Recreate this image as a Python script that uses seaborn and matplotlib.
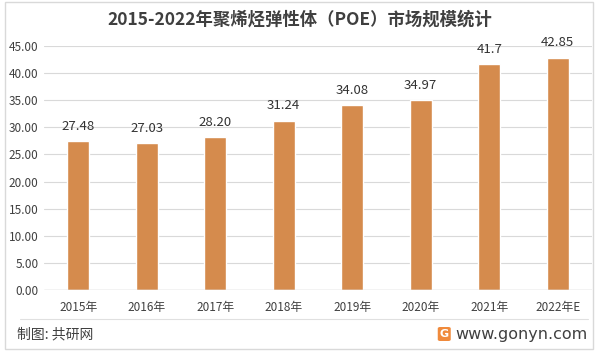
import matplotlib
matplotlib.use("Agg")
import matplotlib.pyplot as plt
import seaborn as sns
import pandas as pd
from matplotlib.patches import Rectangle, FancyBboxPatch
from matplotlib.lines import Line2D

years = ["2015年", "2016年", "2017年", "2018年", "2019年", "2020年", "2021年", "2022年E"]
values = [27.48, 27.03, 28.20, 31.24, 34.08, 34.97, 41.7, 42.85]
value_labels = ["27.48", "27.03", "28.20", "31.24", "34.08", "34.97", "41.7", "42.85"]
yticks = [0, 5, 10, 15, 20, 25, 30, 35, 40, 45]

title = "2015-2022年聚烯烃弹性体（POE）市场规模统计"
source = "制图: 共研网"
site = "www.gonyn.com"

sns.set_theme(style="white")
plt.rcParams['font.family'] = ['Noto Sans CJK SC', 'DejaVu Sans']

W, H = 600, 356
fig = plt.figure(figsize=(6, 3.56), dpi=100)
ax = fig.add_axes([44 / W, 1 - 290 / H, (592 - 44) / W, (290 - 46) / H])

df = pd.DataFrame({"year": years, "value": values})
sns.barplot(data=df, x="year", y="value", color="#D58B4D", saturation=1,
            width=0.32, ax=ax, zorder=3)

ax.set_ylim(0, 45)
ax.set_xlim(-0.5, len(years) - 0.5)
ax.set_yticks(yticks)
ax.set_yticklabels([f"{v:.2f}" for v in yticks], fontsize=8.5, color="#404040")
ax.set_xticks(range(len(years)))
ax.set_xticklabels(years, fontsize=8.5, color="#404040")
ax.tick_params(axis="both", length=0, pad=4)
ax.tick_params(axis="x", pad=8)
ax.set_xlabel("")
ax.set_ylabel("")
for s in ax.spines.values():
    s.set_visible(False)
for v in yticks:
    ax.axhline(v, color="#D9D9D9", lw=0.8, zorder=1)
ax.axhline(0, color="#D0D0D0", lw=1.0, zorder=4)

for i, (v, lab) in enumerate(zip(values, value_labels)):
    ax.annotate(lab, (i, v), xytext=(0, 6), textcoords="offset points",
                ha="center", va="bottom", fontsize=9.5, color="#333333")

# frame
fig.patches.append(Rectangle((5 / W, 1 - 349 / H), (593 - 5) / W, (349 - 2) / H,
                             transform=fig.transFigure, fill=False,
                             edgecolor="#D9D9D9", lw=1.0))
# separator line
fig.lines.append(Line2D([20 / W, 588 / W], [1 - 319 / H, 1 - 319 / H],
                        transform=fig.transFigure, color="#E0E0E0", lw=0.8))

fig.text(0.5, 1 - 20 / H, title, ha="center", va="center", fontsize=12.5,
         fontweight="bold", color="#3F3F3F")
fig.text(17 / W, 1 - 334 / H, source, ha="left", va="center", fontsize=10,
         color="#404040")
site_txt = fig.text(588 / W, 1 - 334 / H, site, ha="right", va="center", fontsize=11.5,
                    color="#404040", family=["DejaVu Sans"])
fig.canvas.draw()
bb = site_txt.get_window_extent(renderer=fig.canvas.get_renderer())
left_px = bb.x0 / fig.dpi * 100
# logo
lx = left_px - 18
fig.patches.append(FancyBboxPatch((lx / W, 1 - 341 / H), 13 / W, 14 / H,
                                  boxstyle="round,pad=0,rounding_size=0.004",
                                  transform=fig.transFigure, facecolor="#F08A3C",
                                  edgecolor="none"))
fig.text((lx + 6.5) / W, 1 - 334 / H, "G", ha="center", va="center", fontsize=8,
         color="white", fontweight="bold", family=["DejaVu Sans"])

fig.savefig("out.png", dpi=100)
